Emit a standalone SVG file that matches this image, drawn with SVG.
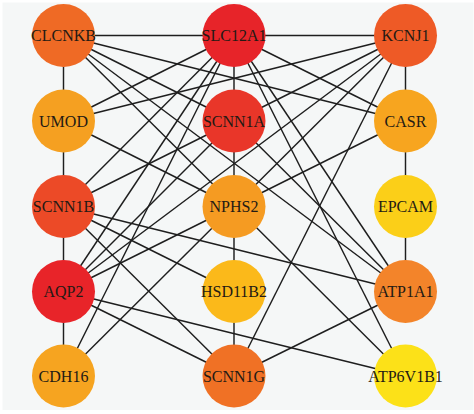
<svg xmlns="http://www.w3.org/2000/svg" width="474" height="414" viewBox="0 0 474 414">
<style>
.e{stroke:#1e1e1e;stroke-width:1.45;fill:none}
.n circle{stroke:none}
.n text{font-family:"Liberation Serif","Times New Roman",serif;font-size:16px;fill:#231a14;text-anchor:middle}
</style>
<rect x="0" y="0" width="474" height="414" fill="#ffffff"/>
<rect x="2.5" y="2.5" width="471" height="407.5" fill="#f5f7f7"/>
<g id="edges">
<line class="e" x1="63.5" y1="35.5" x2="63.5" y2="376"/>
<line class="e" x1="234" y1="35.5" x2="234" y2="376"/>
<line class="e" x1="405.5" y1="35.5" x2="405.5" y2="291.5"/>
<line class="e" x1="63.5" y1="35.5" x2="405.5" y2="35.5"/>
<line class="e" x1="63.5" y1="35.5" x2="405.5" y2="121"/>
<line class="e" x1="63.5" y1="35.5" x2="234" y2="121"/>
<line class="e" x1="63.5" y1="35.5" x2="405.5" y2="291.5"/>
<line class="e" x1="63.5" y1="35.5" x2="405.5" y2="376"/>
<line class="e" x1="63.5" y1="121" x2="234" y2="35.5"/>
<line class="e" x1="63.5" y1="121" x2="405.5" y2="35.5"/>
<line class="e" x1="63.5" y1="121" x2="234" y2="206.5"/>
<line class="e" x1="63.5" y1="206.5" x2="234" y2="35.5"/>
<line class="e" x1="63.5" y1="206.5" x2="405.5" y2="35.5"/>
<line class="e" x1="63.5" y1="206.5" x2="234" y2="291.5"/>
<line class="e" x1="63.5" y1="206.5" x2="234" y2="376"/>
<line class="e" x1="63.5" y1="206.5" x2="405.5" y2="291.5"/>
<line class="e" x1="63.5" y1="291.5" x2="234" y2="35.5"/>
<line class="e" x1="63.5" y1="291.5" x2="234" y2="121"/>
<line class="e" x1="63.5" y1="291.5" x2="405.5" y2="35.5"/>
<line class="e" x1="63.5" y1="291.5" x2="405.5" y2="121"/>
<line class="e" x1="63.5" y1="291.5" x2="234" y2="376"/>
<line class="e" x1="63.5" y1="291.5" x2="405.5" y2="376"/>
<line class="e" x1="63.5" y1="376" x2="234" y2="35.5"/>
<line class="e" x1="63.5" y1="376" x2="405.5" y2="35.5"/>
<line class="e" x1="234" y1="35.5" x2="405.5" y2="121"/>
<line class="e" x1="234" y1="35.5" x2="405.5" y2="291.5"/>
<line class="e" x1="234" y1="35.5" x2="405.5" y2="376"/>
<line class="e" x1="234" y1="121" x2="405.5" y2="291.5"/>
<line class="e" x1="234" y1="376" x2="405.5" y2="35.5"/>
<line class="e" x1="234" y1="376" x2="405.5" y2="291.5"/>
</g>
<g id="CLCNKB" class="n"><circle cx="63.5" cy="35.5" r="31.5" fill="#ef6a25"/><text x="63.5" y="41">CLCNKB</text></g>
<g id="SLC12A1" class="n"><circle cx="234" cy="35.5" r="31.5" fill="#e72429"/><text x="234" y="41">SLC12A1</text></g>
<g id="KCNJ1" class="n"><circle cx="405.5" cy="35.5" r="31.5" fill="#ee5a26"/><text x="405.5" y="41">KCNJ1</text></g>
<g id="UMOD" class="n"><circle cx="63.5" cy="121" r="31.5" fill="#f5a021"/><text x="63.5" y="126.5">UMOD</text></g>
<g id="SCNN1A" class="n"><circle cx="234" cy="121" r="31.5" fill="#e93629"/><text x="234" y="126.5">SCNN1A</text></g>
<g id="CASR" class="n"><circle cx="405.5" cy="121" r="31.5" fill="#f7a51f"/><text x="405.5" y="126.5">CASR</text></g>
<g id="SCNN1B" class="n"><circle cx="63.5" cy="206.5" r="31.5" fill="#ec4a27"/><text x="63.5" y="212">SCNN1B</text></g>
<g id="NPHS2" class="n"><circle cx="234" cy="206.5" r="31.5" fill="#f59b22"/><text x="234" y="212">NPHS2</text></g>
<g id="EPCAM" class="n"><circle cx="405.5" cy="206.5" r="31.5" fill="#fbcf18"/><text x="405.5" y="212">EPCAM</text></g>
<g id="AQP2" class="n"><circle cx="63.5" cy="291.5" r="31.5" fill="#e82429"/><text x="63.5" y="297">AQP2</text></g>
<g id="HSD11B2" class="n"><circle cx="234" cy="291.5" r="31.5" fill="#fbb91a"/><text x="234" y="297">HSD11B2</text></g>
<g id="ATP1A1" class="n"><circle cx="405.5" cy="291.5" r="31.5" fill="#f3842a"/><text x="405.5" y="297">ATP1A1</text></g>
<g id="CDH16" class="n"><circle cx="63.5" cy="376" r="31.5" fill="#f6a420"/><text x="63.5" y="381.5">CDH16</text></g>
<g id="SCNN1G" class="n"><circle cx="234" cy="376" r="31.5" fill="#f07125"/><text x="234" y="381.5">SCNN1G</text></g>
<g id="ATP6V1B1" class="n"><circle cx="405.5" cy="376" r="31.5" fill="#fce118"/><text x="405.5" y="381.5">ATP6V1B1</text></g>
</svg>
